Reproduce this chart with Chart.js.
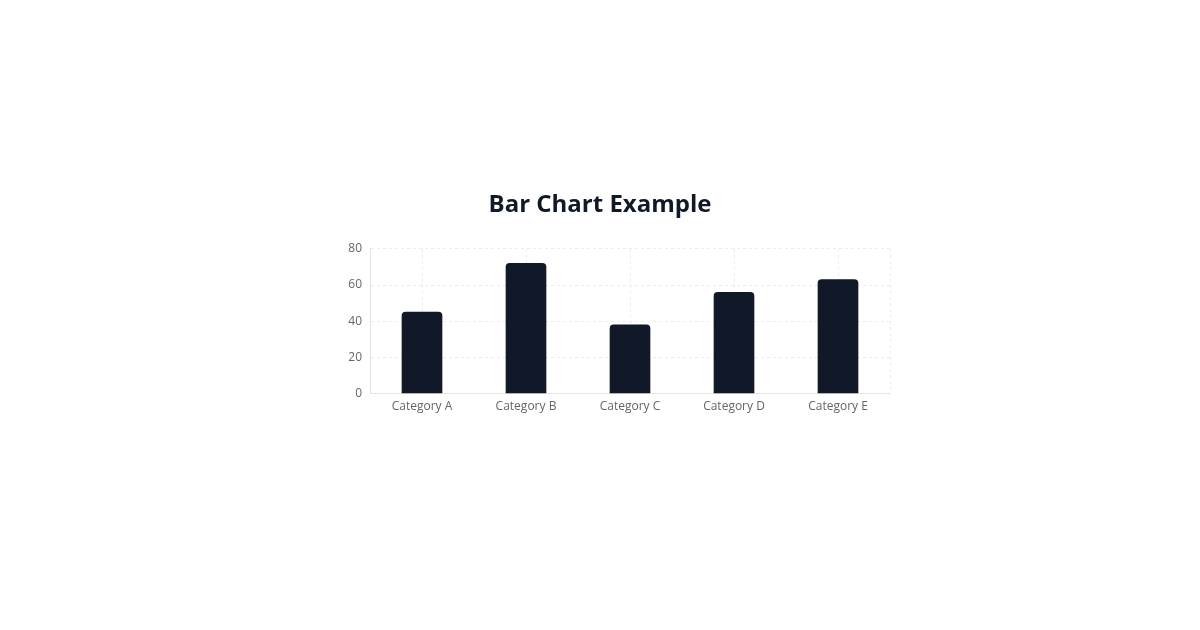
<!DOCTYPE html>
<html>
<head>
<meta charset="utf-8">
<script src="https://cdn.jsdelivr.net/npm/chart.js@4/dist/chart.umd.min.js"></script>
<style>
  html, body { margin: 0; padding: 0; background: #ffffff; }
  #wrap { position: absolute; left: 300px; top: 191px; width: 600px; height: 229px; }
</style>
</head>
<body>
<div id="wrap"><canvas id="barChart"></canvas></div>
<script>
const categories = ["Category A", "Category B", "Category C", "Category D", "Category E"];
const values = [45, 72, 38, 56, 63];
const yTicks = [0, 20, 40, 60, 80];

// dashed line along the right edge of the plot
const rightEdge = {
  id: "rightEdge",
  afterDraw(chart) {
    const { ctx, chartArea } = chart;
    ctx.save();
    ctx.strokeStyle = "#ececec";
    ctx.lineWidth = 1;
    ctx.setLineDash([3, 3]);
    ctx.beginPath();
    ctx.moveTo(chartArea.right + 0.5, chartArea.top);
    ctx.lineTo(chartArea.right + 0.5, chartArea.bottom);
    ctx.stroke();
    ctx.restore();
  }
};

function createChart() {
  new Chart(document.getElementById("barChart"), {
    type: "bar",
    data: {
      labels: categories,
      datasets: [
        {
          data: values,
          backgroundColor: "#111827",
          borderRadius: { topLeft: 4, topRight: 4 },
          borderSkipped: "bottom",
          barThickness: 40,
        },
      ],
    },
    options: {
      responsive: true,
      maintainAspectRatio: false,
      animation: false,
      layout: { padding: { left: 10, right: 10 } },
      plugins: {
        legend: { display: false },
        tooltip: { enabled: false },
        title: {
          display: true,
          text: "Bar Chart Example",
          color: "#111827",
          font: { family: "Open Sans", size: 24, weight: "bold" },
          padding: { top: 0, bottom: 29 },
        },
      },
      scales: {
        x: {
          grid: {
            offset: false,
            color: "#ececec",
            tickLength: 0,
          },
          border: { color: "#e5e5e5", dash: [3, 3] },
          ticks: {
            color: "#666666",
            font: { family: "Open Sans", size: 12 },
            padding: 6,
          },
        },
        y: {
          min: 0,
          max: 80,
          afterBuildTicks(axis) {
            axis.ticks = yTicks.map(v => ({ value: v }));
          },
          afterFit(axis) {
            axis.width = 60;
          },
          grid: {
            color: "#ececec",
            tickLength: 0,
          },
          border: { color: "#e5e5e5", dash: [3, 3] },
          ticks: {
            color: "#666666",
            font: { family: "Open Sans", size: 12 },
            padding: 8,
          },
        },
      },
    },
    plugins: [rightEdge],
  });
}

window.onload = createChart;
</script>
</body>
</html>
